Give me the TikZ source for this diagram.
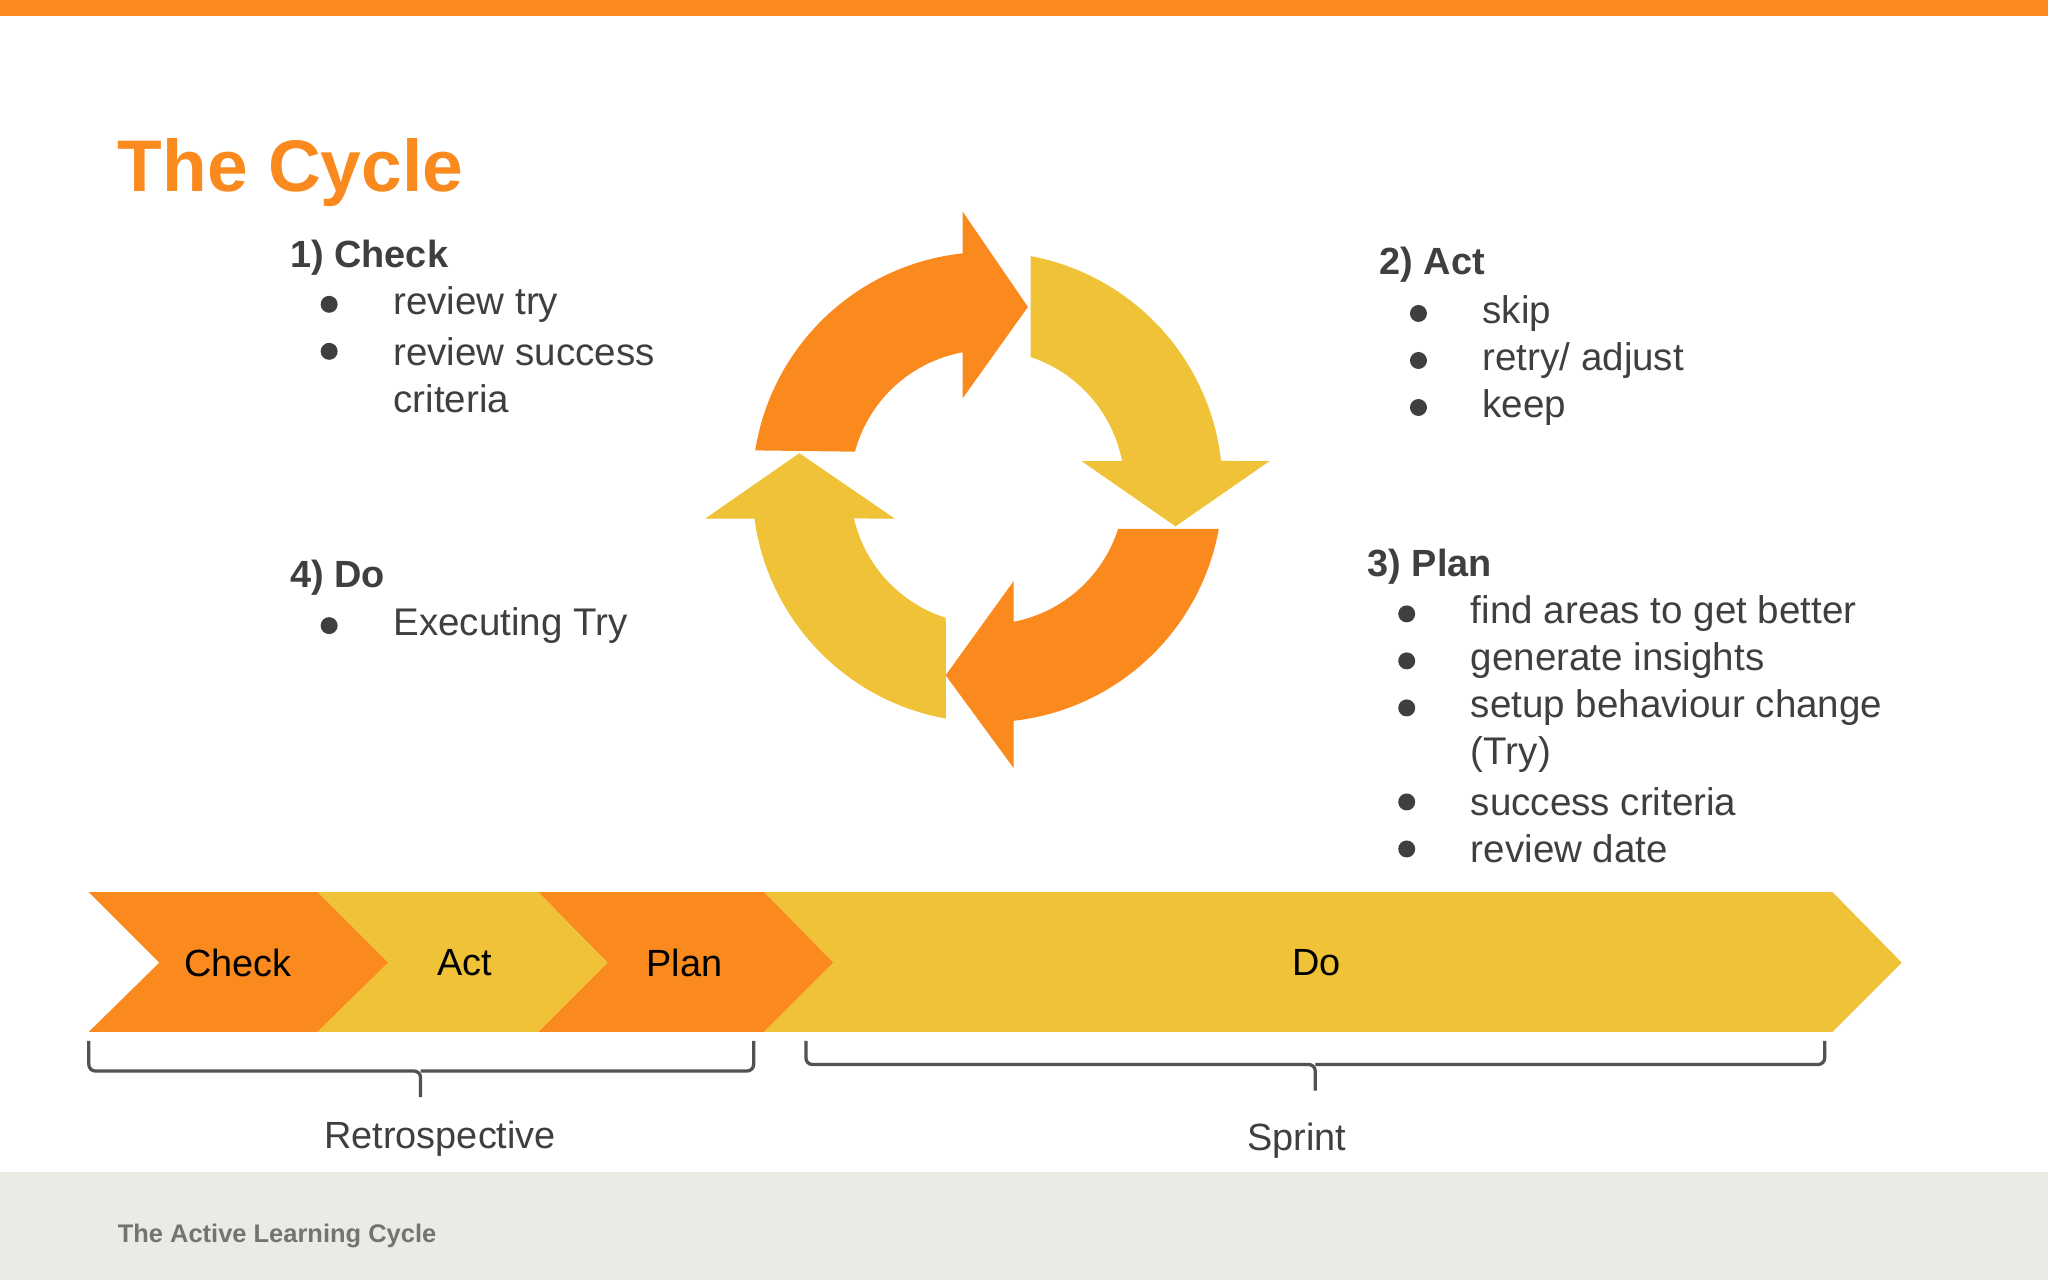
\documentclass[tikz,border=0pt]{standalone}
\usepackage{fontspec}
\setmainfont{Liberation Sans}
\usetikzlibrary{calc}
\definecolor{org}{HTML}{FB8A1E}
\definecolor{yel}{HTML}{F0C237}
\definecolor{txt}{HTML}{3F3F3F}
\definecolor{foot}{HTML}{ECEAE4}
\begin{document}
\begin{tikzpicture}[x=1pt,y=1pt,
  body/.style={anchor=west,text=txt,font=\fontsize{29.5}{31}\selectfont,inner sep=0},
  head/.style={anchor=west,text=txt,font=\fontsize{29}{31}\selectfont\bfseries,inner sep=0},
  chev/.style={text=black,font=\fontsize{29}{31}\selectfont},
  brace/.style={draw=txt!90,line width=2.5pt,rounded corners=5pt}]
\useasboundingbox (0,0) rectangle (1568,980);
\fill[white] (0,0) rectangle (1568,980);
\fill[org] (0,968) rectangle (1568,980);
\fill[foot] (0,0) rectangle (1568,83);
\node[anchor=west,text=gray!90!black,font=\fontsize{19.5}{21}\selectfont\bfseries,inner sep=0] (foottxt) at (90,34) {The Active Learning Cycle};
\node[anchor=west,text=org,font=\fontsize{56}{60}\selectfont\bfseries,inner sep=0] (title) at (90,848) {The Cycle};
% cycle
\coordinate (C) at (756,607);
\fill[org] ($(C)+(171:180)$) arc[start angle=171,end angle=96.06,radius=180] -- (737,818) -- (787,745) -- (737,675) -- ($(C)+(100.4:105)$) arc[start angle=100.4,end angle=165,radius=105] -- cycle;
\fill[yel] ($(C)+(79.4:180)$) arc[start angle=79.4,end angle=6.4,radius=180] -- (972,627) -- (900,577) -- (828,627) -- ($(C)+(11:105)$) arc[start angle=11,end angle=71.7,radius=105] -- cycle;
\fill[org] ($(C)+(-10.2:180)$) arc[start angle=-10.2,end angle=-83.6,radius=180] -- (776,392) -- (724,463) -- (776,535) -- ($(C)+(-79:105)$) arc[start angle=-79,end angle=-17.7,radius=105] -- cycle;
\fill[yel] ($(C)+(259.8:180)$) arc[start angle=259.8,end angle=187.7,radius=180] -- (540,583) -- (612,633) -- (685,583) -- ($(C)+(193.2:105)$) arc[start angle=193.2,end angle=252.3,radius=105] -- cycle;
% text blocks
\node[head] (h1) at (222,783) {1) Check};
\node[body] (c1) at (301,747) {review try};
\node[body] (c2) at (301,711) {review success};
\node[body] (c3) at (301,675) {criteria};
\fill[txt] (252,747) circle (6.5) (252,711) circle (6.5);
\node[head] (h2) at (1056,777) {2) Act};
\node[body] (a1) at (1135,740) {skip};
\node[body] (a2) at (1135,704) {retry/ adjust};
\node[body] (a3) at (1135,668) {keep};
\fill[txt] (1086,740) circle (6.5) (1086,704) circle (6.5) (1086,668) circle (6.5);
\node[head] (h3) at (1047,546) {3) Plan};
\node[body] (p1) at (1126,510) {find areas to get better};
\node[body] (p2) at (1126,474) {generate insights};
\node[body] (p3) at (1126,438) {setup behaviour change};
\node[body] (p4) at (1126,402) {(Try)};
\node[body] (p5) at (1126,366) {success criteria};
\node[body] (p6) at (1126,330) {review date};
\fill[txt] (1077,510) circle (6.5) (1077,474) circle (6.5) (1077,438) circle (6.5) (1077,366) circle (6.5) (1077,330) circle (6.5);
\node[head] (h4) at (222,538) {4) Do};
\node[body] (d1) at (301,501) {Executing Try};
\fill[txt] (252,501) circle (6.5);
% chevrons
\fill[yel] (585,297) -- (1403,297) -- (1456,243) -- (1403,190) -- (585,190) -- (638,243) -- cycle;
\fill[org] (412,297) -- (585,297) -- (638,243) -- (585,190) -- (412,190) -- (465,243) -- cycle;
\fill[yel] (243,297) -- (412,297) -- (465,243) -- (412,190) -- (243,190) -- (297,243) -- cycle;
\fill[org] (68,297) -- (243,297) -- (297,243) -- (243,190) -- (68,190) -- (122,243) -- cycle;
\node[chev] (kc) at (182,243) {Check};
\node[chev] (ka) at (356,243) {Act};
\node[chev] (kp) at (524,243) {Plan};
\node[chev] (kd) at (1008,243) {Do};
% braces
\draw[brace] (68,183) -- (68,160) -- (322,160) -- (322,140);
\draw[brace] (322,160) -- (577,160) -- (577,183);
\draw[brace] (617,183) -- (617,165) -- (1007,165) -- (1007,145);
\draw[brace] (1007,165) -- (1397,165) -- (1397,183);
\node[chev,text=txt] (retro) at (337,108) {Retrospective};
\node[chev,text=txt] (sprint) at (993,107) {Sprint};
\end{tikzpicture}
\end{document}
